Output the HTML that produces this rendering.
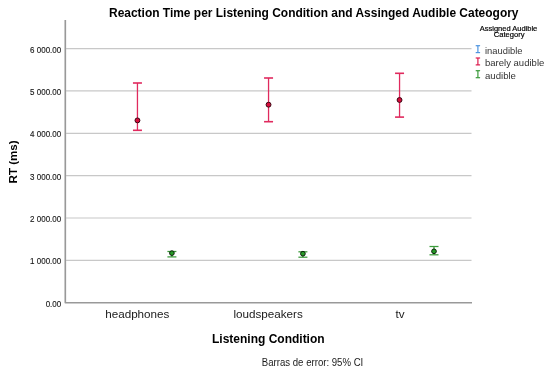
<!DOCTYPE html>
<html><head><meta charset="utf-8"><title>Reaction Time chart</title>
<style>
html,body{margin:0;padding:0;background:#fff;}
body{width:550px;height:373px;overflow:hidden;}
svg{display:block;}
text{font-family:"Liberation Sans",Arial,sans-serif;fill:#1a1a1a;}
.b{font-weight:bold;fill:#000;}
.tick{font-size:8px;fill:#111;stroke:#111;stroke-width:0.12px;}
.cat{font-size:11.66px;fill:#222;}
.leg{font-size:9.6px;fill:#333;}
.legt{font-size:7px;fill:#000;stroke:#000;stroke-width:0.18px;}
</style></head>
<body>
<svg width="550" height="373" viewBox="0 0 550 373">
<rect x="0" y="0" width="550" height="373" fill="#fff"/>
<text class="b" x="109" y="17" font-size="12" textLength="409.5" lengthAdjust="spacingAndGlyphs">Reaction Time per Listening Condition and Assinged Audible Cateogory</text>
<g stroke="#c8c8c8" stroke-width="1.2">
<line x1="66.1" y1="48.6" x2="471.5" y2="48.6"/>
<line x1="66.1" y1="90.95" x2="471.5" y2="90.95"/>
<line x1="66.1" y1="133.3" x2="471.5" y2="133.3"/>
<line x1="66.1" y1="175.65" x2="471.5" y2="175.65"/>
<line x1="66.1" y1="218.0" x2="471.5" y2="218.0"/>
<line x1="66.1" y1="260.35" x2="471.5" y2="260.35"/>
</g>
<g stroke="#999" stroke-width="1.65" fill="none" stroke-linejoin="round">
<polyline points="65.3,20 65.3,302.7 472,302.7"/>
</g>
<g class="tick" text-anchor="end">
<text transform="translate(61.2,52.70) scale(1,1.24)">6 000.00</text>
<text transform="translate(61.2,95.05) scale(1,1.24)">5 000.00</text>
<text transform="translate(61.2,137.40) scale(1,1.24)">4 000.00</text>
<text transform="translate(61.2,179.75) scale(1,1.24)">3 000.00</text>
<text transform="translate(61.2,222.10) scale(1,1.24)">2 000.00</text>
<text transform="translate(61.2,264.45) scale(1,1.24)">1 000.00</text>
<text transform="translate(61.2,306.80) scale(1,1.24)">0.00</text>
</g>
<text class="b" font-size="11.6" transform="translate(16.9,161.9) rotate(-90)" text-anchor="middle">RT (ms)</text>
<g class="cat" text-anchor="middle">
<text x="137.3" y="318.2">headphones</text>
<text x="268.1" y="318.2">loudspeakers</text>
<text x="400" y="318.2">tv</text>
</g>
<text class="b" x="268.3" y="343.4" font-size="12" text-anchor="middle">Listening Condition</text>
<text x="261.8" y="366.2" font-size="10.6" fill="#222" textLength="101.5" lengthAdjust="spacingAndGlyphs">Barras de error: 95% CI</text>
<g stroke="#e02a5e" fill="none">
<line x1="137.45" y1="83.0" x2="137.45" y2="130.3" stroke-width="1.3"/>
<line x1="132.95" y1="83.0" x2="141.95" y2="83.0" stroke-width="1.6"/>
<line x1="132.95" y1="130.3" x2="141.95" y2="130.3" stroke-width="1.6"/>
<line x1="268.55" y1="78.0" x2="268.55" y2="121.7" stroke-width="1.3"/>
<line x1="264.05" y1="78.0" x2="273.05" y2="78.0" stroke-width="1.6"/>
<line x1="264.05" y1="121.7" x2="273.05" y2="121.7" stroke-width="1.6"/>
<line x1="399.55" y1="73.3" x2="399.55" y2="117.1" stroke-width="1.3"/>
<line x1="395.05" y1="73.3" x2="404.05" y2="73.3" stroke-width="1.6"/>
<line x1="395.05" y1="117.1" x2="404.05" y2="117.1" stroke-width="1.6"/>
</g>
<g fill="#d80c3c" stroke="#3a0612" stroke-width="1">
<circle cx="137.45" cy="120.4" r="2.45"/>
<circle cx="268.55" cy="104.7" r="2.45"/>
<circle cx="399.55" cy="100.0" r="2.45"/>
</g>
<g stroke="#3c9c3c" fill="none">
<line x1="171.9" y1="251.5" x2="171.9" y2="256.9" stroke-width="1.3"/>
<line x1="167.40" y1="251.5" x2="176.40" y2="251.5" stroke-width="1.25"/>
<line x1="167.40" y1="256.9" x2="176.40" y2="256.9" stroke-width="1.25"/>
<line x1="302.9" y1="251.8" x2="302.9" y2="257.2" stroke-width="1.3"/>
<line x1="298.40" y1="251.8" x2="307.40" y2="251.8" stroke-width="1.25"/>
<line x1="298.40" y1="257.2" x2="307.40" y2="257.2" stroke-width="1.25"/>
<line x1="434.0" y1="246.5" x2="434.0" y2="254.8" stroke-width="1.3"/>
<line x1="429.50" y1="246.5" x2="438.50" y2="246.5" stroke-width="1.25"/>
<line x1="429.50" y1="254.8" x2="438.50" y2="254.8" stroke-width="1.25"/>
</g>
<g fill="#269a26" stroke="#0a200a" stroke-width="1">
<circle cx="171.9" cy="253.1" r="2.35"/>
<circle cx="302.9" cy="253.7" r="2.35"/>
<circle cx="434.0" cy="251.3" r="2.35"/>
</g>
<text class="legt" x="479.8" y="30.8" textLength="57.5" lengthAdjust="spacingAndGlyphs">Assigned Audible</text>
<text class="legt" x="493.7" y="36.6" textLength="30.9" lengthAdjust="spacingAndGlyphs">Category</text>
<g stroke-width="1.2" fill="none">
<g stroke="#4f95e0"><line x1="477.9" y1="45.7" x2="477.9" y2="52.6"/><line x1="475.7" y1="45.7" x2="480.1" y2="45.7"/><line x1="475.7" y1="52.6" x2="480.1" y2="52.6"/></g>
<g stroke="#dc1c4e"><line x1="477.9" y1="58.0" x2="477.9" y2="64.9"/><line x1="475.7" y1="58.0" x2="480.1" y2="58.0"/><line x1="475.7" y1="64.9" x2="480.1" y2="64.9"/></g>
<g stroke="#3a9a3a"><line x1="477.9" y1="70.7" x2="477.9" y2="77.7"/><line x1="475.7" y1="70.7" x2="480.1" y2="70.7"/><line x1="475.7" y1="77.7" x2="480.1" y2="77.7"/></g>
</g>
<text class="leg" x="485" y="54.2" textLength="37.5" lengthAdjust="spacingAndGlyphs">inaudible</text>
<text class="leg" x="485" y="66.3" textLength="59.3" lengthAdjust="spacingAndGlyphs">barely audible</text>
<text class="leg" x="485" y="78.5">audible</text>
</svg>
</body></html>
